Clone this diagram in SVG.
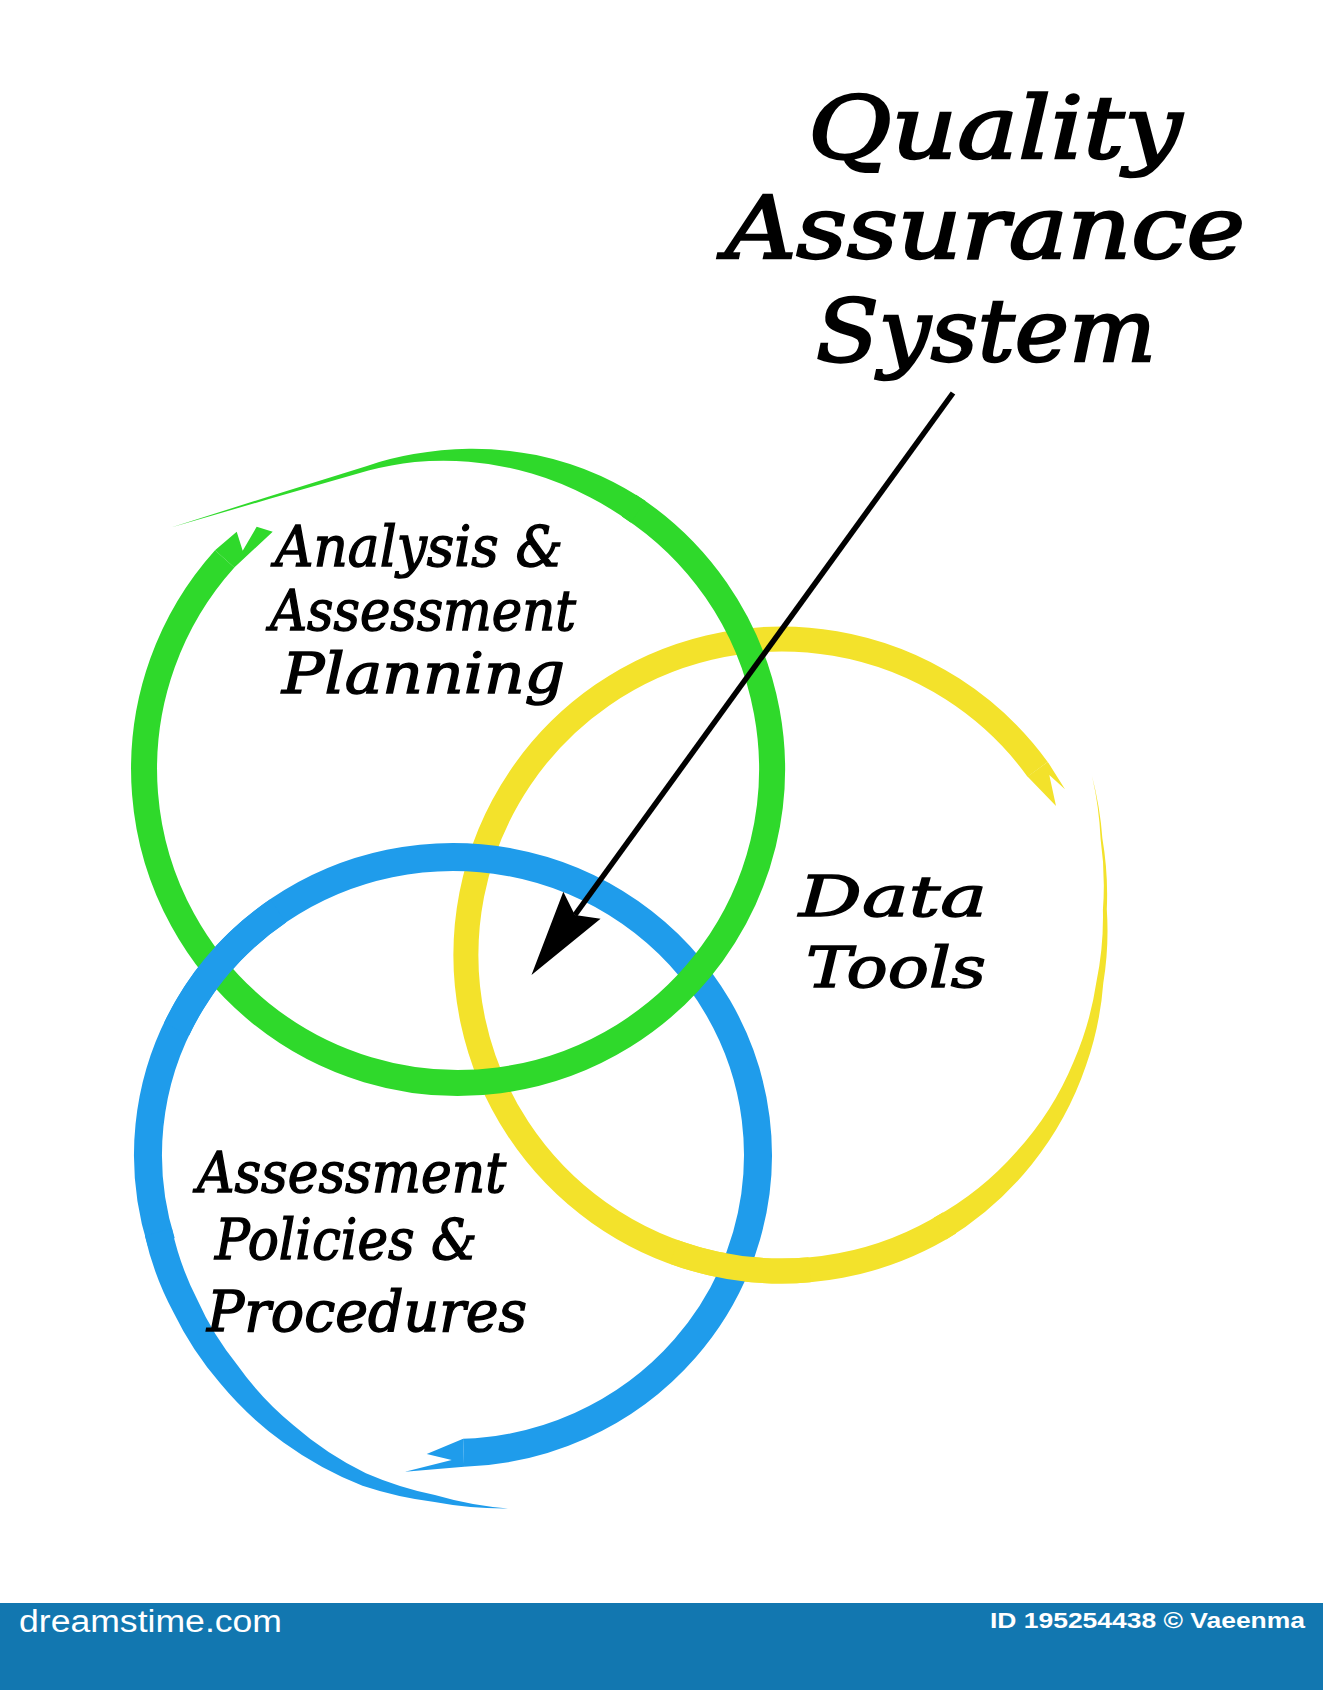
<svg xmlns="http://www.w3.org/2000/svg" width="1323" height="1690" viewBox="0 0 1323 1690">
<defs>
<style>
.lbl { font-family: "DejaVu Serif", "Liberation Serif", serif; font-style: italic; fill: #000; stroke: #000; }
.title { font-size: 86px; stroke-width: 2.4px; }
.node { font-size: 56px; stroke-width: 1.4px; }
.g { fill: none; stroke: #2fd92b; stroke-width: 26; }
.gf { fill: #2fd92b; }
.b { fill: none; stroke: #1f9ceb; stroke-width: 28; }
.bf { fill: #1f9ceb; }
.y { fill: none; stroke: #f3e22b; stroke-width: 25; }
.yf { fill: #f3e22b; }
.ban { font-family: "Liberation Sans", Arial, sans-serif; fill: #fff; }
</style>
<marker id="ah" markerUnits="userSpaceOnUse" markerWidth="90" markerHeight="50" viewBox="0 -25 90 50" refX="12" refY="0" orient="auto" overflow="visible">
<path d="M86,0 L0,-23 L12,0 L0,23 Z" fill="#000"/>
</marker>
</defs>
<rect x="0" y="0" width="1323" height="1690" fill="#fff"/>

<g id="title">
<text class="lbl title" x="808" y="158" textLength="374" lengthAdjust="spacingAndGlyphs">Quality</text>
<text class="lbl title" x="725" y="258" textLength="520" lengthAdjust="spacingAndGlyphs">Assurance</text>
<text class="lbl title" x="816" y="361" textLength="340" lengthAdjust="spacingAndGlyphs">System</text>
</g>

<g id="node-data">
<path class="y" d="M1037.6,769.3 A316,316 0 1 0 949.4,1223"/>
<path class="yf" d="M1047.8,761.9 L1065,789.3 L1049.3,775 L1056,806 L1027.5,776.6 Z"/>
<path class="yf" d="M946.3,1239.5 A327,327 0 0 0 1031.7,1164.5 A325,325 0 0 0 1086,1065.6 A323,323 0 0 0 1103.3,983.1 A325,325 0 0 0 1106.8,909.3 A334,334 0 0 0 1102.4,838.4 A349,349 0 0 0 1092,776 A348,348 0 0 1 1100.6,839.1 A331,331 0 0 1 1102.9,909.9 A320,320 0 0 1 1096.3,982.5 A313,313 0 0 1 1073.8,1061.2 A308,308 0 0 1 1016.4,1151.7 A305,305 0 0 1 933.8,1217.8 Z"/>
<text class="lbl node" x="799" y="916" textLength="188" lengthAdjust="spacingAndGlyphs">Data</text>
<text class="lbl node" x="806" y="987" textLength="180" lengthAdjust="spacingAndGlyphs">Tools</text>
</g>

<g id="node-policies">
<path class="b" d="M463.6,1452.8 A305,298 0 1 0 161.3,1242.1"/>
<path class="bf" d="M464.1,1466.8 L405,1471.7 L451.7,1460 L426.7,1454 L463.2,1438.8 Z"/>
<path class="bf" d="M144.9,1235.7 A305,305 0 0 0 173.7,1312.8 A320,320 0 0 0 220,1383 A340,340 0 0 0 283.5,1442.5 A360,360 0 0 0 362.5,1485.8 A370,370 0 0 0 434.5,1502 A380,380 0 0 0 508,1508.5 A370,370 0 0 1 434.9,1495 A350,350 0 0 1 365.9,1473.2 A330,330 0 0 1 293.5,1425.2 A305,305 0 0 1 237.7,1365.4 A292,292 0 0 1 197.1,1299.3 A285,285 0 0 1 171.9,1228.5 Z"/>
<text class="lbl node" x="197" y="1192" textLength="309" lengthAdjust="spacingAndGlyphs">Assessment</text>
<text class="lbl node" x="215" y="1259" textLength="262" lengthAdjust="spacingAndGlyphs">Policies &amp;</text>
<text class="lbl node" x="207" y="1331" textLength="320" lengthAdjust="spacingAndGlyphs">Procedures</text>
</g>

<g id="node-analysis">
<path class="g" d="M629,505.6 A314,314 0 1 1 224.7,558.9"/>
<path class="gf" d="M171,527.5 L269,496.4 L367,465.9 A317,317 0 0 1 413.7,454.1 A319,319 0 0 1 469.2,448.7 A322,322 0 0 1 536.3,455.1 A325,325 0 0 1 600.9,476 A326.5,326.5 0 0 1 645.6,501.1 L630.7,522.4 A301.5,301.5 0 0 0 590.4,497.6 A303,303 0 0 0 531.7,473.5 A306,306 0 0 0 468.7,461.7 A309,309 0 0 0 414.8,462 A311,311 0 0 0 368.5,470.6 L269.8,498.8 Z"/>
<path class="gf" d="M215,550.2 L236.7,531.7 L242.7,550.7 L256.7,526.7 L272.7,531.8 L234.3,567.6 Z"/>
<text class="lbl node" x="275" y="566" textLength="288" lengthAdjust="spacingAndGlyphs">Analysis &amp;</text>
<text class="lbl node" x="270" y="630" textLength="306" lengthAdjust="spacingAndGlyphs">Assessment</text>
<text class="lbl node" x="282" y="693" textLength="283" lengthAdjust="spacingAndGlyphs">Planning</text>
</g>

<g id="weave">
<path class="b" d="M176.6,1029.1 A305,298 0 0 1 278.1,910.9"/>
<path class="y" d="M809.6,1269.8 A316,316 0 0 1 673.9,1252"/>
</g>

<g id="connectors">
<line x1="953" y1="393" x2="574.9" y2="915" stroke="#000" stroke-width="5.5" marker-end="url(#ah)"/>
</g>

<g id="banner">
<rect x="0" y="1603" width="1323" height="87" fill="#1277b0"/>
<text class="ban" x="19" y="1632" font-size="31" textLength="263" lengthAdjust="spacingAndGlyphs">dreamstime.com</text>
<text class="ban" x="990" y="1628" font-size="22" font-weight="bold" textLength="315" lengthAdjust="spacingAndGlyphs">ID 195254438 © Vaeenma</text>
</g>
</svg>
